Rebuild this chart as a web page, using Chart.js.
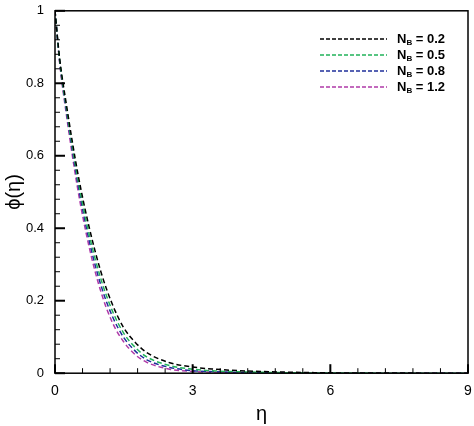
<!DOCTYPE html>
<html><head><script src="https://cdn.jsdelivr.net/npm/chart.js@4"></script>
<style>body{margin:0;background:#fff}#w{width:474px;height:426px}</style></head>
<body><div id="w"><canvas id="c"></canvas></div>
<script>
const eta = [0,0.1,0.25,0.5,0.75,1,1.25,1.5,1.75,2,2.5,3,3.5,4,5,6,7,8,9];
const nb02 = [1,0.87,0.74,0.55,0.40,0.28,0.19,0.125,0.085,0.057,0.029,0.017,0.011,0.007,0.003,0.001,0.0005,0.0002,0];
const nb05 = [1,0.865,0.73,0.535,0.38,0.26,0.172,0.11,0.071,0.045,0.021,0.011,0.006,0.004,0.0015,0.0005,0.0002,0,0];
const nb08 = [1,0.862,0.722,0.522,0.363,0.243,0.157,0.098,0.061,0.037,0.016,0.007,0.004,0.002,0.0006,0.0002,0,0,0];
const nb12 = [1,0.858,0.712,0.505,0.345,0.225,0.14,0.086,0.051,0.03,0.011,0.005,0.0025,0.001,0.0003,0,0,0,0];
const labels = ['N_B = 0.2','N_B = 0.5','N_B = 0.8','N_B = 1.2'];
const colors = ['#000000','#22b35a','#1f2f9a','#b03aa8'];
const series = [nb02,nb05,nb08,nb12];

const ticksPlugin = {id:'tk', afterDraw(ch){
  const c=ch.ctx, a=ch.chartArea, xs=ch.scales.x, ys=ch.scales.y;
  c.save(); c.strokeStyle='#000'; c.lineWidth=1;
  for(let i=0;i<=15;i++){const v=i*0.6,p=xs.getPixelForValue(v);const maj=Math.abs(v/3-Math.round(v/3))<1e-6;
    c.beginPath();c.moveTo(p,a.bottom);c.lineTo(p,a.bottom-(maj?9:5));c.lineWidth=maj?2:1;c.stroke();}
  for(let i=0;i<=25;i++){const v=i*0.04,p=ys.getPixelForValue(v);const maj=Math.abs(v/0.2-Math.round(v/0.2))<1e-6;
    c.beginPath();c.moveTo(a.left,p);c.lineTo(a.left+(maj?10:5),p);c.lineWidth=maj?2:1;c.stroke();}
  c.lineWidth=1.5;c.strokeRect(a.left,a.top,a.right-a.left,a.bottom-a.top);
  c.textBaseline='middle';
  for(let i=0;i<4;i++){const y=39+i*16;
    c.setLineDash([4,2]);c.strokeStyle=colors[i];c.lineWidth=1.5;c.beginPath();c.moveTo(320,y);c.lineTo(387,y);c.stroke();c.setLineDash([]);
    const [n,rest]=labels[i].split('_');const sub=rest.slice(0,1),tail=rest.slice(1);
    c.fillStyle='#000';c.font='bold 13px Liberation Sans, Arial';c.fillText(n,397,y);
    let x=397+c.measureText(n).width;c.font='bold 8px Liberation Sans, Arial';c.fillText(sub,x,y+4);
    x+=c.measureText(sub).width;c.font='bold 13px Liberation Sans, Arial';c.fillText(tail,x,y);}
  c.restore();}};

new Chart(document.getElementById('c'),{type:'line',
 data:{datasets:series.map((s,i)=>({label:labels[i],data:eta.map((e,j)=>({x:e,y:s[j]})),borderColor:colors[i],borderWidth:1.5,borderDash:[5,3],pointRadius:0,cubicInterpolationMode:'monotone'}))},
 options:{responsive:true,maintainAspectRatio:false,animation:false,
  layout:{padding:{top:8,right:6,left:0,bottom:0}},
  plugins:{legend:{display:false},tooltip:{enabled:false}},
  scales:{
   x:{type:'linear',min:0,max:9,grid:{display:false},border:{display:false},
      ticks:{stepSize:3,color:'#000',font:{size:14,family:'Liberation Sans'},padding:2},
      title:{display:true,text:'η',color:'#000',font:{size:20,family:'Liberation Sans'},padding:0}},
   y:{min:0,max:1,grid:{display:false},border:{display:false},
      ticks:{stepSize:0.2,color:'#000',font:{size:13,family:'Liberation Sans'},callback:v=>v===0?'0':v===1?'1':v.toFixed(1)},
      title:{display:true,text:'ϕ(η)',color:'#000',font:{size:20,family:'Liberation Sans'},padding:2},
      afterFit(s){s.width=55;}}}},
 plugins:[ticksPlugin]});
</script></body></html>
